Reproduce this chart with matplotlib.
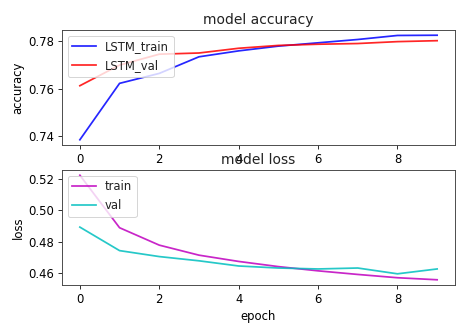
import matplotlib
matplotlib.use("Agg")
import matplotlib.pyplot as plt

epochs = list(range(10))
acc_train = [0.7385, 0.7623, 0.7665, 0.7735, 0.7760, 0.7780, 0.7794, 0.7808, 0.7825, 0.7826]
acc_val = [0.7613, 0.7700, 0.7746, 0.7751, 0.7771, 0.7783, 0.7788, 0.7791, 0.7799, 0.7803]
loss_train = [0.5225, 0.4890, 0.4779, 0.4715, 0.4675, 0.4642, 0.4615, 0.4592, 0.4571, 0.4558]
loss_val = [0.4894, 0.4744, 0.4706, 0.4679, 0.4646, 0.4633, 0.4627, 0.4633, 0.4596, 0.4627]

s = 1.16
plt.rcParams['font.size'] = 10 * s
plt.rcParams['lines.linewidth'] = 1.5 * s
plt.rcParams['axes.linewidth'] = 0.8 * s
plt.rcParams['xtick.major.size'] = 3.5 * s
plt.rcParams['ytick.major.size'] = 3.5 * s
plt.rcParams['axes.edgecolor'] = '#444444'
plt.rcParams['text.color'] = '#222222'
fig = plt.figure(figsize=(474/72, 329/72), dpi=72)

ax1 = fig.add_axes([62/474, 1-145/329, (455-62)/474, (145-30)/329])
ax1.plot(epochs, acc_train, color='b', alpha=0.85, label='LSTM_train')
ax1.plot(epochs, acc_val, color='r', alpha=0.85, label='LSTM_val')
ax1.set_title('model accuracy')
ax1.set_ylabel('accuracy')
ax1.set_yticks([0.74, 0.76, 0.78])
ax1.set_xticks([0, 2, 4, 6, 8])
ax1.legend(loc='upper left')

ax2 = fig.add_axes([62/474, 1-285/329, (455-62)/474, (285-170)/329])
ax2.plot(epochs, loss_train, color='m', alpha=0.85, label='train')
ax2.plot(epochs, loss_val, color='c', alpha=0.85, label='val')
ax2.set_title('model loss')
ax2.set_ylabel('loss')
ax2.set_xlabel('epoch')
ax2.set_yticks([0.46, 0.48, 0.50, 0.52])
ax2.set_xticks([0, 2, 4, 6, 8])
ax2.legend(loc='upper left')

fig.savefig('out.png', dpi=72)
